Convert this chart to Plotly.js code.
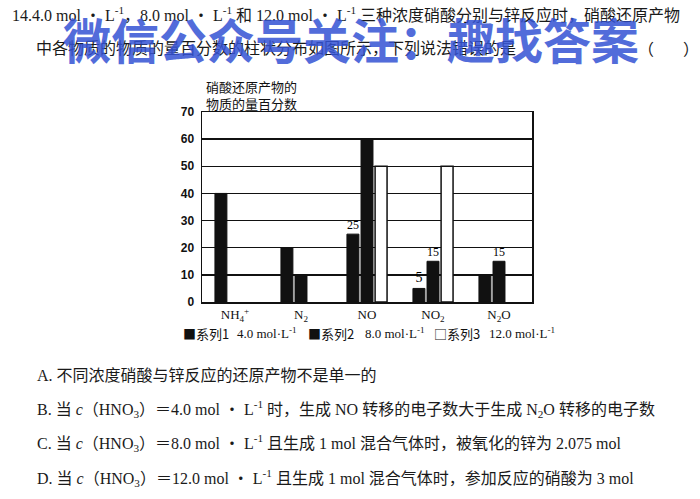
<!DOCTYPE html>
<html><head><meta charset="utf-8">
<script src="https://cdn.plot.ly/plotly-3.0.1.min.js"></script>
<style>html,body{margin:0;padding:0;background:#fff}#c{width:700px;height:499px}</style>
</head><body><div id="c"></div>
<script>
const categories = ['NH<sub>4</sub><sup>+</sup>', 'N<sub>2</sub>', 'NO', 'NO<sub>2</sub>', 'N<sub>2</sub>O'];
const series1 = [40, 20, 25, 5, 10];
const series2 = [0, 10, 60, 15, 15];
const series3 = [0, 0, 50, 50, 0];
const show1 = [false, false, true, true, false];
const show2 = [false, false, false, true, true];
const show3 = [false, false, false, false, false];
const seriesNames = ['系列1', '系列2', '系列3'];
const seriesConc = ['4.0 mol·L<sup>-1</sup>', '8.0 mol·L<sup>-1</sup>', '12.0 mol·L<sup>-1</sup>'];
const yTitle = '硝酸还原产物的<br>物质的量百分数';
const question1 = '14.4.0 mol ・ L<sup>-1</sup>，8.0 mol ・ L<sup>-1</sup> 和 12.0 mol ・ L<sup>-1</sup> 三种浓度硝酸分别与锌反应时，硝酸还原产物';
const question2 = '中各物质的物质的量百分数的柱状分布如图所示，下列说法错误的是';
const options = [
  'A. 不同浓度硝酸与锌反应的还原产物不是单一的',
  'B. 当 <i>c</i>（HNO<sub>3</sub>）＝4.0 mol ・ L<sup>-1</sup> 时，生成 NO 转移的电子数大于生成 N<sub>2</sub>O 转移的电子数',
  'C. 当 <i>c</i>（HNO<sub>3</sub>）＝8.0 mol ・ L<sup>-1</sup> 且生成 1 mol 混合气体时，被氧化的锌为 2.075 mol',
  'D. 当 <i>c</i>（HNO<sub>3</sub>）＝12.0 mol ・ L<sup>-1</sup> 且生成 1 mol 混合气体时，参加反应的硝酸为 3 mol'
];
const watermark = '微信公众号关注：趣找答案';

const L = 202, R = 532, T = 112, B = 302;
const px = x => (x - L) / (R - L);
const py = y => (B - y) / (B - T);
const serif = 'Liberation Serif, DejaVu Serif, Noto Sans CJK SC, serif';
const cjk = 'Liberation Serif, Noto Sans CJK SC, sans-serif';

const nz = vals => vals.map(v => v === 0 ? null : v);
const lab = (vals, show) => vals.map((v, i) => show[i] ? String(v) : '');
const tf = {family: serif, size: 14, color: '#000'};
const common = {type: 'bar', x: categories, textposition: 'outside', cliponaxis: false,
  textfont: tf, outsidetextfont: tf, showlegend: false, hoverinfo: 'skip'};
const traces = [
  Object.assign({}, common, {y: nz(series1), text: lab(series1, show1), name: seriesNames[0], marker: {color: '#111', line: {color: '#111', width: 1}}}),
  Object.assign({}, common, {y: nz(series2), text: lab(series2, show2), name: seriesNames[1], marker: {color: '#111', line: {color: '#111', width: 1}}}),
  Object.assign({}, common, {y: nz(series3), text: lab(series3, show3), name: seriesNames[2], marker: {color: '#fff', line: {color: '#111', width: 1.5}}})
];

const ann = [];
const txt = (x, y, text, font, anchor) => ann.push({xref: 'paper', yref: 'paper', x: px(x), y: py(y),
  xanchor: anchor || 'left', yanchor: 'middle', align: 'left', showarrow: false, text: text, font: font});
txt(204, 95, yTitle, {family: 'Noto Sans CJK SC', size: 13, color: '#111'});
const legX = [181, 306, 432];
const legConcX = [235, 363, 487];
const sym = ['■', '■', '□'];
for (let i = 0; i < 3; i++) {
  txt(legX[i], 333, sym[i] + seriesNames[i], {family: 'Noto Sans CJK SC', size: 13, color: '#111'});
  txt(legConcX[i], 333, seriesConc[i], {family: serif, size: 13, color: '#111'});
}
const qf = {family: cjk, size: 16, color: '#1a1a1a'};
txt(10, 14, question1, qf);
txt(34, 48, question2, qf);
txt(636, 48, '（', {family: 'Noto Sans CJK SC', size: 16, color: '#1a1a1a'});
txt(681, 48, '）', {family: 'Noto Sans CJK SC', size: 16, color: '#1a1a1a'});
const optY = [375, 409, 443, 478];
options.forEach((t, i) => txt(35, optY[i], t, qf));
ann.push({xref: 'paper', yref: 'paper', x: px(351), y: py(38), xanchor: 'center', yanchor: 'middle', showarrow: false,
  text: watermark, opacity: 0.85, font: {family: 'Noto Sans CJK SC', size: 48, color: '#3553d4', weight: 'bold'}});

const layout = {
  width: 700, height: 499,
  margin: {l: L, r: 700 - R, t: T, b: 499 - B, pad: 0},
  paper_bgcolor: '#fff', plot_bgcolor: '#fff',
  barmode: 'group', bargap: 0.36, bargroupgap: 0.15,
  xaxis: {type: 'category', range: [-0.5, 4.5], showline: true, linecolor: '#111', linewidth: 1.5, mirror: true,
    showgrid: false, ticks: '', tickfont: {family: serif, size: 13, color: '#111'}, fixedrange: true},
  yaxis: {range: [0, 70], dtick: 10, showline: true, linecolor: '#111', linewidth: 1.5, mirror: true,
    showgrid: true, gridcolor: '#111', gridwidth: 1.3, zeroline: false, ticks: '', ticklabelstandoff: 4,
    tickfont: {family: 'Liberation Sans, Arial, sans-serif', size: 12, color: '#111', weight: 'bold'}, fixedrange: true},
  annotations: ann,
  showlegend: false
};
Plotly.newPlot('c', traces, layout, {displayModeBar: false, staticPlot: true});
</script></body></html>
